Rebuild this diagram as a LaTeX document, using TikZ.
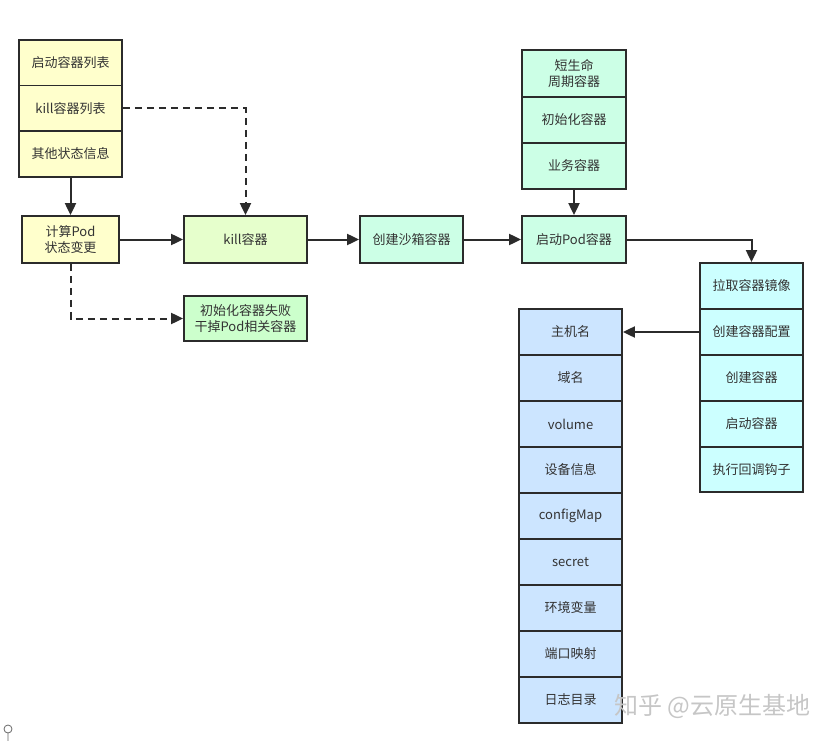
\documentclass[tikz,border=0pt]{standalone}
\usepackage{fontspec}
\usepackage{xcolor}
\usetikzlibrary{arrows.meta}
\newfontfamily\cjk{Noto Sans CJK SC}
\definecolor{lineC}{HTML}{2B2B2B}
\definecolor{txtC}{HTML}{333333}
\definecolor{yelC}{HTML}{FFFFCC}
\definecolor{limeC}{HTML}{E6FFCC}
\definecolor{mintC}{HTML}{CCFFE6}
\definecolor{grnC}{HTML}{CCFFCC}
\definecolor{cyanC}{HTML}{CCFFFF}
\definecolor{bluC}{HTML}{CCE5FF}
\tikzset{
  cell/.style={draw=lineC,line width=1.8pt,inner sep=0pt,align=center,
    text=txtC,font=\cjk\fontsize{13}{16}\selectfont,
    minimum width=103pt,minimum height=46pt},
  flow/.style={draw=lineC,line width=2pt,-{Triangle[length=12pt,width=11pt]}},
  dflow/.style={flow,dash pattern=on 7pt off 5pt}
}
\begin{document}
\begin{tikzpicture}[x=1pt,y=-1pt]
            \useasboundingbox (0,0) rectangle (833,741);
            % left input list
            \node [cell,fill=yelC] (startlist) at (70.5,63){启动容器列表};
            \node [cell,fill=yelC] (killlist) at (70.5,108.5){kill容器列表};
            \node [cell,fill=yelC] (otherinfo) at (70.5,154){其他状态信息};
            % main row
            \node [cell,fill=yelC,minimum width=97pt,minimum height=47pt] (calc) at (70.5,239.5){计算Pod\\状态变更};
            \node [cell,fill=limeC,minimum width=123pt,minimum height=47pt] (kill) at (245.5,239.5){kill容器};
            \node [cell,fill=mintC,minimum height=47pt] (sandbox) at (411.5,239.5){创建沙箱容器};
            \node [cell,fill=mintC,minimum width=104pt,minimum height=47pt] (startpod) at (574,239.5){启动Pod容器};
            \node [cell,fill=grnC,minimum width=123pt,minimum height=45pt] (fail) at (245.5,318.5){初始化容器失败\\干掉Pod相关容器};
            % container kinds
            \node [cell,fill=mintC,minimum width=104pt,minimum height=46.5pt] (shortlife) at (574,73.5){短生命\\周期容器};
            \node [cell,fill=mintC,minimum width=104pt,minimum height=46.5pt] (initc) at (574,120){初始化容器};
            \node [cell,fill=mintC,minimum width=104pt,minimum height=46.5pt] (bizc) at (574,166){业务容器};
            % container start steps
            \node [cell,fill=cyanC] (pull) at (751.5,286){拉取容器镜像};
            \node [cell,fill=cyanC] (cfg) at (751.5,332){创建容器配置};
            \node [cell,fill=cyanC] (create) at (751.5,378){创建容器};
            \node [cell,fill=cyanC] (run) at (751.5,424){启动容器};
            \node [cell,fill=cyanC,minimum height=45pt] (hook) at (751.5,469.5){执行回调钩子};
            % container config items
            \node [cell,fill=bluC] (host) at (570.5,332){主机名};
            \node [cell,fill=bluC] (domain) at (570.5,378){域名};
            \node [cell,fill=bluC] (volume) at (570.5,424){volume};
            \node [cell,fill=bluC] (device) at (570.5,470){设备信息};
            \node [cell,fill=bluC] (cfgmap) at (570.5,516){configMap};
            \node [cell,fill=bluC] (secret) at (570.5,562){secret};
            \node [cell,fill=bluC] (env) at (570.5,608){环境变量};
            \node [cell,fill=bluC] (port) at (570.5,654){端口映射};
            \node [cell,fill=bluC] (logdir) at (570.5,700){日志目录};
            % connectors
            \draw [flow] (otherinfo.south)--(calc.north);
            \draw [dflow] (killlist.east)-|(kill.north);
            \draw [flow] (calc.east)--(kill.west);
            \draw [dflow] (calc.south)|-(fail.west);
            \draw [flow] (kill.east)--(sandbox.west);
            \draw [flow] (sandbox.east)--(startpod.west);
            \draw [flow] (bizc.south)--(startpod.north);
            \draw [flow] (startpod.east)-|(pull.north);
            \draw [flow] (cfg.west)--(host.east);
            % watermark and pin
            \node [text=gray!45,font=\cjk\fontsize{24}{28}\selectfont,anchor=east] (mark) at (814,706){知乎 @云原生基地};
            \draw [gray!80!black,line width=0.8pt] (8,729) circle (4) (8,733)--(8,741);
        \end{tikzpicture}
\end{document}
